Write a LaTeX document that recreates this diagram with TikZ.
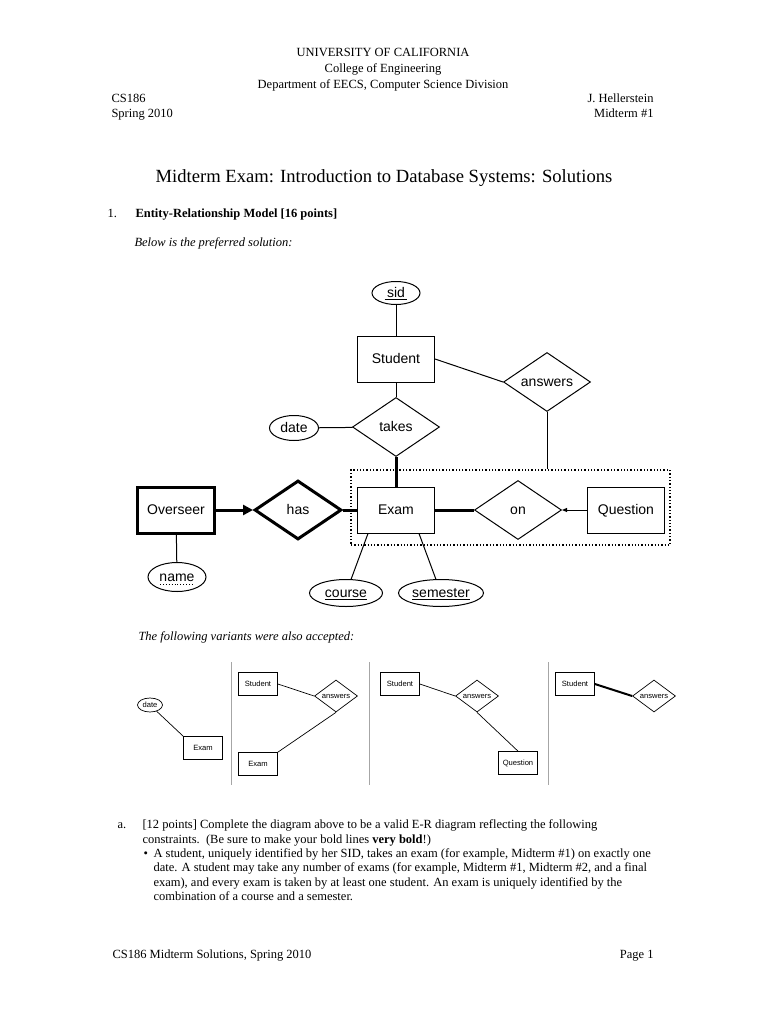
\documentclass[tikz,border=0pt]{standalone}
\usepackage{fontspec}
\setmainfont{Liberation Serif}
\newfontfamily\dgfont{Liberation Sans}
\usetikzlibrary{positioning, arrows.meta, shapes.geometric}

\begin{document}
\begin{tikzpicture}[x=1pt, y=-1pt, >=Stealth, line width=1pt,
        txt/.style={inner sep=0, font=\fontsize{12.5}{14.5}\selectfont},
        lbl/.style={text height=10pt, text depth=1pt, font=\dgfont\fontsize{14}{16}\selectfont},
        smlbl/.style={text height=5.5pt, text depth=0.6pt, font=\dgfont\fontsize{7.6}{9}\selectfont},
        ent/.style={rectangle, draw, lbl, minimum width=77, minimum height=46},
        rel/.style={diamond, draw, lbl, aspect=1.5, minimum width=87, minimum height=59, inner sep=0},
        att/.style={ellipse, draw, lbl, inner sep=0},
        heavy/.style={line width=3pt},
        sment/.style={rectangle, draw, smlbl, line width=0.7pt, minimum width=39, minimum height=23},
        smrel/.style={diamond, draw, smlbl, aspect=1.5, line width=0.7pt, minimum width=43, minimum height=32, inner sep=0},
        smatt/.style={ellipse, draw, smlbl, line width=0.7pt, minimum width=25, minimum height=14, inner sep=0}]
        \useasboundingbox[fill=white] (0,0) rectangle (768,1024);

        \node[txt, anchor=base] (uni) at (383,57) {UNIVERSITY OF CALIFORNIA};
        \node[txt, anchor=base] (coe) at (383,73) {College of Engineering};
        \node[txt, anchor=base] (eecs) at (383,89) {Department of EECS, Computer Science Division};
        \node[txt, anchor=base west] (crs) at (111,103) {CS186};
        \node[txt, anchor=base west] (term) at (111,118) {Spring 2010};
        \node[txt, anchor=base east] (prof) at (654,103) {J. Hellerstein};
        \node[txt, anchor=base east] (exno) at (654,118) {Midterm \#1};
        \node[txt, anchor=base, font=\fontsize{18.6}{22}\selectfont] (title) at (384,183) {Midterm Exam: Introduction to Database Systems: Solutions};
        \node[txt, anchor=base west] (qnum) at (107,218) {1.};
        \node[txt, anchor=base west] (qhead) at (135,218) {\textbf{Entity-Relationship Model [16 points]}};
        \node[txt, anchor=base west] (pref) at (134,247) {\textit{Below is the preferred solution:}};

        \node[att, minimum width=48, minimum height=23] (sid) at (396,293) {\underline{\,sid\,}};
        \node[ent] (student) at (396,359) {Student};
        \node[rel] (answers) at (547,382) {answers};
        \node[rel] (takes) at (396,427) {takes};
        \node[att, minimum width=49, minimum height=25] (date) at (294,428) {date};
        \node[ent, line width=3pt] (overseer) at (176,510) {Overseer};
        \node[rel, line width=3pt] (has) at (298,510) {has};
        \node[ent] (exam) at (396,510) {Exam};
        \node[rel] (on) at (518,510) {on};
        \node[ent] (question) at (626,510) {Question};
        \node[draw, dotted, line width=1.3pt, minimum width=319, minimum height=75, inner sep=0] (agg) at (510.5,507.5) {};
        \node[att, minimum width=58, minimum height=29] (name) at (177,577) {name};
        \draw[dotted, line width=0.9pt] ([xshift=-17pt, yshift=-7pt]name.center) -- ([xshift=17pt, yshift=-7pt]name.center);
        \node[att, minimum width=73, minimum height=27] (course) at (346,593) {\underline{course}};
        \node[att, minimum width=85, minimum height=27] (semester) at (441,593) {\underline{semester}};
        \draw (sid) -- (student);
        \draw (student) -- (takes);
        \draw (date) -- (takes);
        \draw (student.east) -- (answers.west);
        \draw (answers.south) -- (answers.south |- agg.north);
        \draw[heavy] (takes.south) -- (exam.north);
        \draw[heavy, -{Triangle[length=10pt, width=10pt]}] (overseer) -- (has);
        \draw[heavy] (has) -- (exam);
        \draw[heavy] (exam) -- (on);
        \draw[-{Triangle[length=5pt, width=4pt]}] (question) -- (on);
        \draw (overseer) -- (name);
        \draw ([xshift=-28pt]exam.south) -- (course);
        \draw ([xshift=23pt]exam.south) -- (semester);

        \node[txt, anchor=base west] (alt) at (138,640) {\textit{The following variants were also accepted:}};
        \foreach \sx in {231,369,548}{\draw[gray!70] (\sx,662) -- (\sx,785);}
        \node[smatt] (vdate) at (150,705) {date};
        \node[sment] (vexam1) at (203,748) {Exam};
        \draw[line width=0.7pt] (vdate) -- (vexam1.north west);
        \node[sment] (vstud2) at (258,684) {Student};
        \node[smrel] (vans2) at (336,696) {answers};
        \node[sment] (vexam2) at (258,764) {Exam};
        \draw[line width=0.7pt] (vstud2.east) -- (vans2.west);
        \draw[line width=0.7pt] (vexam2.north east) -- (vans2.south);
        \node[sment] (vstud3) at (400,684) {Student};
        \node[smrel] (vans3) at (477,696) {answers};
        \node[sment] (vquest3) at (518,763) {Question};
        \draw[line width=0.7pt] (vstud3.east) -- (vans3.west);
        \draw[line width=0.7pt] (vans3.south) -- (vquest3.north);
        \node[sment] (vstud4) at (575,684) {Student};
        \node[smrel] (vans4) at (654,696) {answers};
        \draw[line width=2pt] (vstud4.east) -- (vans4.west);

        \node[txt, anchor=base west] (parta) at (117,828) {a.};
        \node[txt, anchor=base west] (pa1) at (142,828) {[12 points] Complete the diagram above to be a valid E-R diagram reflecting the following};
        \node[txt, anchor=base west] (pa2) at (142,843) {constraints.\ \ (Be sure to make your bold lines \textbf{very bold}!)};
        \node[txt, anchor=base west] (blt) at (143,857) {\textbullet};
        \node[txt, anchor=base west] (pb1) at (153,857) {A student, uniquely identified by her SID, takes an exam (for example, Midterm \#1) on exactly one};
        \node[txt, anchor=base west] (pb2) at (153,871) {date. A student may take any number of exams (for example, Midterm \#1, Midterm \#2, and a final};
        \node[txt, anchor=base west] (pb3) at (153,886) {exam), and every exam is taken by at least one student. An exam is uniquely identified by the};
        \node[txt, anchor=base west] (pb4) at (153,900) {combination of a course and a semester.};

        \node[txt, anchor=base west] (foot) at (112,958) {CS186 Midterm Solutions, Spring 2010};
        \node[txt, anchor=base east] (page) at (654,958) {Page 1};
\end{tikzpicture}
\end{document}
